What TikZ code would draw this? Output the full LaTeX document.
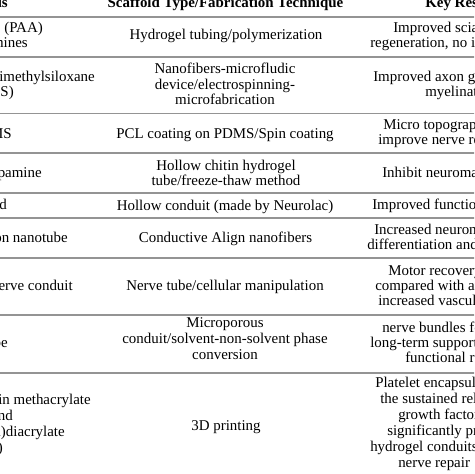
\documentclass[tikz,border=0pt]{standalone}
\usepackage{fontspec}
\setmainfont{Liberation Serif}
\begin{document}
\begin{tikzpicture}[x=0.75pt,y=-0.75pt,
  cell/.style={inner sep=0pt, font=\fontsize{11.2}{12}\selectfont},
  lft/.style={cell, anchor=base east},
  rgt/.style={cell, anchor=base west},
  mid/.style={cell, anchor=base},
  rule/.style={draw=black!42, line width=1.3pt}]
\useasboundingbox (0,0) rectangle (474,474);
\clip (0,0) rectangle (474,474);
\fill[white] (0,0) rectangle (474,474);
% horizontal rules
\foreach \yy [count=\i] in {17,57,113.5,153,193,218,258,315,373}
  \draw[rule] (-5,\yy) coordinate (rl\i) -- (480,\yy) coordinate (rr\i);
% header
\node[lft] (h1) at (8,8) {\textbf{Materials}};
\node[mid] (h2) at (225.5,8) {\textbf{Scaffold Type/Fabrication Technique}};
\node[rgt] (h3) at (425,8) {\textbf{Key Results}};
% row 1
\node[lft] (a1a) at (43,33) {Poly(acrylic acid) (PAA)};
\node[lft] (a1b) at (28,48) {Polyamines};
\node[mid] (b1) at (226,40) {Hydrogel tubing/polymerization};
\node[rgt] (c1a) at (393,33) {Improved sciatic nerve};
\node[rgt] (c1b) at (370,48) {regeneration, no inflammation};
% row 2
\node[lft] (a2a) at (95,82) {Polydimethylsiloxane};
\node[lft] (a2b) at (14,97) {(PDMS)};
\node[mid] (b2a) at (225,74) {Nanofibers-microfludic};
\node[mid] (b2b) at (225,89.5) {device/electrospinning-};
\node[mid] (b2c) at (225,105) {microfabrication};
\node[rgt] (c2a) at (373,82) {Improved axon growth and};
\node[rgt] (c2b) at (425,97) {myelination};
% row 3
\node[lft] (a3) at (12,138) {PCL/PDMS};
\node[mid] (b3) at (225,138) {PCL coating on PDMS/Spin coating};
\node[rgt] (c3a) at (383,130) {Micro topography to};
\node[rgt] (c3b) at (378,145) {improve nerve regeneration};
% row 4
\node[lft] (a4) at (42,177) {Polydopamine};
\node[mid] (b4a) at (226,170) {Hollow chitin hydrogel};
\node[mid] (b4b) at (226,185) {tube/freeze-thaw method};
\node[rgt] (c4) at (382,177) {Inhibit neuroma formation};
% row 5
\node[lft] (a5) at (7,209) {FDA approved};
\node[mid] (b5) at (225,210) {Hollow conduit (made by Neurolac)};
\node[rgt] (c5) at (372,209) {Improved functional recovery};
% row 6
\node[lft] (a6) at (68,242) {Carbon nanotube};
\node[mid] (b6) at (225.5,242) {Conductive Align nanofibers};
\node[rgt] (c6a) at (374,234) {Increased neuronal};
\node[rgt] (c6b) at (367,249) {differentiation and growth};
% row 7
\node[lft] (a7) at (73,290) {Cell-based nerve conduit};
\node[mid] (b7) at (225,290) {Nerve tube/cellular manipulation};
\node[rgt] (c7a) at (388,275) {Motor recovery similar};
\node[rgt] (c7b) at (375,290) {compared with autograft,};
\node[rgt] (c7c) at (378,305) {increased vascularization};
% row 8
\node[lft] (a8) at (8,347) {Polysulfone tube};
\node[mid] (b8a) at (225,327) {Microporous};
\node[mid] (b8b) at (225,343) {conduit/solvent-non-solvent phase};
\node[mid] (b8c) at (225,359) {conversion};
\node[rgt] (c8a) at (382,332) {nerve bundles formed,};
\node[rgt] (c8b) at (370,347) {long-term support for};
\node[rgt] (c8c) at (405,362) {functional recovery};
% row 9
\node[lft] (a9a) at (91,404) {Gelatin methacrylate};
\node[lft] (a9b) at (13,420) {(GelMA) and};
\node[lft] (a9c) at (65,436) {poly(ethylene glycol)diacrylate};
\node[lft] (a9d) at (3,452) {(PEGDA)};
\node[mid] (b9) at (226,430) {3D printing};
\node[rgt] (c9a) at (375,387) {Platelet encapsulation for};
\node[rgt] (c9b) at (380,403) {the sustained release of};
\node[rgt] (c9c) at (398,419) {growth factors};
\node[rgt] (c9d) at (387,435) {significantly promoted};
\node[rgt] (c9e) at (370,451) {hydrogel conduits for};
\node[rgt] (c9f) at (398,467) {nerve repair};
\end{tikzpicture}
\end{document}
